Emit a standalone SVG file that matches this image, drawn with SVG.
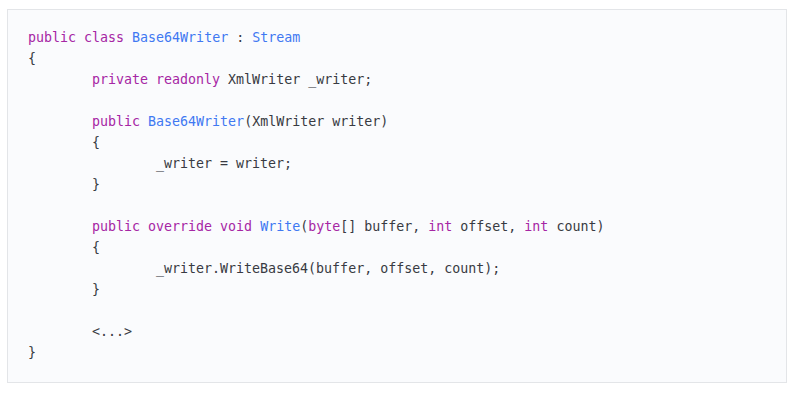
<svg xmlns="http://www.w3.org/2000/svg" width="801" height="402" viewBox="0 0 801 402">
<style>
text{font-family:"DejaVu Sans Mono","Liberation Mono",monospace;font-size:13.3px;fill:#383a42;white-space:pre}
.k{fill:#a626a4}.t{fill:#4078f2}
</style>
<rect width="801" height="402" fill="#fff"/>
<g id="code">
<rect x="7.5" y="9.5" width="779" height="373" fill="#fafbfd" stroke="#e3e5e8"/>
<text x="28" y="42"><tspan class="k">public class </tspan><tspan class="t">Base64Writer</tspan> : <tspan class="t">Stream</tspan></text>
<text x="28" y="63">{</text>
<text x="92" y="84"><tspan class="k">private readonly </tspan>XmlWriter _writer;</text>
<text x="92" y="126"><tspan class="k">public </tspan><tspan class="t">Base64Writer</tspan>(XmlWriter writer)</text>
<text x="92" y="147">{</text>
<text x="156" y="168">_writer = writer;</text>
<text x="92" y="189">}</text>
<text x="92" y="231"><tspan class="k">public override void </tspan><tspan class="t">Write</tspan>(<tspan class="k">byte</tspan>[] buffer, <tspan class="k">int</tspan> offset, <tspan class="k">int</tspan> count)</text>
<text x="92" y="252">{</text>
<text x="156" y="273">_writer.WriteBase64(buffer, offset, count);</text>
<text x="92" y="294">}</text>
<text x="92" y="336">&lt;...&gt;</text>
<text x="28" y="357">}</text>
</g>
</svg>
